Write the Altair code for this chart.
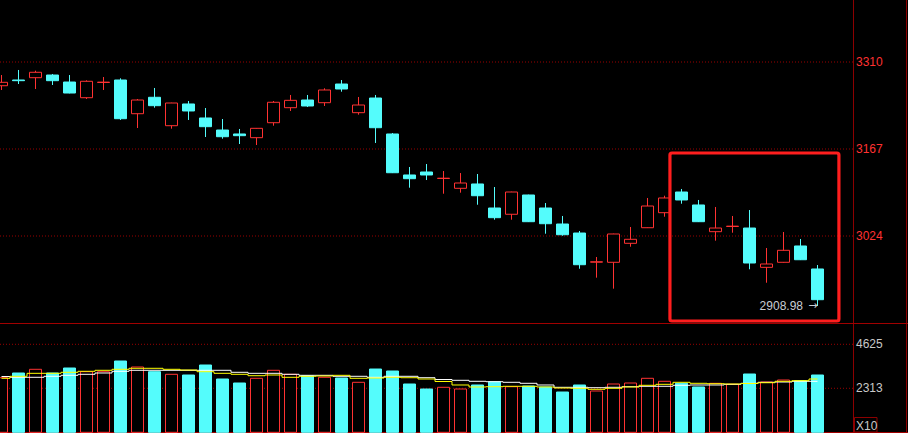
import altair as alt
import pandas as pd

# ---------------- data ----------------
opens = [3271.0, 3280.4, 3284.2, 3288.6, 3277.1, 3251.3, 3276.3, 3280.4, 3225.0, 3252.0,
         3205.3, 3241.0, 3218.0, 3198.2, 3191.7, 3185.6, 3210.2, 3234.9, 3247.5, 3243.1,
         3273.8, 3226.7, 3250.8, 3191.7, 3124.3, 3129.2, 3118.5, 3102.4, 3109.5, 3070.0,
         3059.7, 3091.4, 3070.0, 3043.7, 3028.9, 2981.0, 2980.8, 3012.0, 3037.6, 3062.3,
         3096.3, 3075.0, 3031.1, 3039.6, 3037.1, 2972.5, 2980.8, 3007.6, 2969.8]
highs = [3288.6, 3296.9, 3295.7, 3290.3, 3288.6, 3279.9, 3285.3, 3283.2, 3249.2, 3267.3,
         3243.0, 3245.9, 3234.4, 3216.3, 3199.9, 3201.5, 3245.9, 3255.8, 3255.8, 3266.8,
         3280.4, 3252.5, 3255.8, 3193.3, 3137.4, 3142.3, 3130.8, 3127.5, 3125.9, 3104.5,
         3096.8, 3091.9, 3078.2, 3056.9, 3032.2, 2989.5, 3027.8, 3038.8, 3086.5, 3090.2,
         3101.3, 3083.2, 3071.7, 3056.9, 3066.7, 3004.3, 3030.6, 3019.1, 2976.3]
lows = [3264.0, 3273.8, 3265.6, 3272.2, 3258.5, 3249.2, 3264.0, 3214.7, 3201.5, 3234.9,
        3200.4, 3214.7, 3186.7, 3183.9, 3175.2, 3173.6, 3205.3, 3229.5, 3236.0, 3237.7,
        3261.2, 3223.4, 3176.9, 3127.5, 3103.4, 3116.0, 3093.5, 3095.2, 3075.4, 3050.8,
        3050.8, 3047.0, 3027.8, 3024.5, 2970.2, 2955.5, 2937.4, 3006.4, 3037.1, 3055.7,
        3077.1, 3047.0, 3016.3, 3029.4, 2969.3, 2947.2, 2980.3, 2984.5, 2908.98]
closes = [3276.6, 3279.3, 3293.1, 3279.3, 3259.0, 3278.3, 3276.9, 3216.8, 3247.5, 3238.2,
          3242.6, 3229.5, 3203.7, 3187.2, 3188.9, 3201.0, 3243.8, 3247.0, 3237.7, 3264.0,
          3265.6, 3239.3, 3202.0, 3128.0, 3118.2, 3124.3, 3119.0, 3111.1, 3090.2, 3054.1,
          3096.3, 3047.5, 3044.2, 3026.1, 2976.8, 2981.6, 3027.3, 3018.6, 3073.3, 3086.5,
          3083.2, 3047.5, 3037.1, 3040.2, 2979.6, 2978.0, 3000.5, 2985.0, 2919.3]
volumes = [2869, 3116, 3311, 3116, 3379, 3185, 3185, 3747, 3432, 3185,
           3048, 3011, 3537, 2801, 2591, 2838, 3258, 3048, 2974, 2890,
           2853, 2628, 3326, 3221, 2538, 2275, 2365, 2275, 2486, 2659,
           2396, 2433, 2381, 2118, 2486, 2170, 2538, 2591, 2838, 2680,
           2575, 2381, 2575, 2522, 3064, 2643, 2748, 2712, 3011]
vol_ma_yellow = [2838, 2943, 3100, 3100, 3153, 3206, 3258, 3311, 3363, 3363,
                 3311, 3274, 3185, 3100, 3048, 2974, 3011, 2890, 2943, 2959,
                 2995, 2838, 2853, 2890, 2869, 2801, 2670, 2486, 2381, 2396,
                 2417, 2417, 2381, 2328, 2312, 2260, 2312, 2381, 2470, 2522,
                 2628, 2575, 2554, 2538, 2564, 2606, 2680, 2712, 2801]
vol_ma_white = [2932, 2890, 2890, 2943, 2995, 3048, 3116, 3206, 3258, 3258,
                3258, 3258, 3258, 3258, 3153, 3100, 3100, 3048, 2995, 2995,
                2943, 2943, 2890, 2943, 2943, 2869, 2775, 2733, 2680, 2659,
                2628, 2575, 2486, 2365, 2365, 2344, 2365, 2396, 2417, 2417,
                2470, 2486, 2486, 2522, 2575, 2628, 2643, 2680, 2680]
price_ticks = [3310, 3167, 3024]
vol_ticks = [4625, 2313]
vol_unit_label = "X10"
low_label = 2908.98
# highlighted region (candle index range, price range)
box_idx = [39.32, 49.26]
box_price = [3160.4, 2884.3]

# ---------------- styling ----------------
RED = "#ff3232"
CYAN = "#54fcfc"
GRID = "#990000"
FRAME = "#8c0000"
FONT = "Liberation Sans"

df = pd.DataFrame({"i": list(range(len(opens))), "open": opens, "high": highs,
                   "low": lows, "close": closes, "vol": volumes,
                   "ma_y": vol_ma_yellow, "ma_w": vol_ma_white})
df["up"] = df["close"] >= df["open"]
df["stroke"] = df["up"].map({True: RED, False: CYAN})
df["fill"] = df["up"].map({True: "#000000", False: CYAN})
df["base"] = 0

xs = alt.Scale(domain=[0, 48], range=[1.5, 817.5], nice=False, zero=False, padding=0)
ps = alt.Scale(domain=[3024, 3310], range=[236, 62], nice=False, zero=False, padding=0)
vs = alt.Scale(domain=[0, 4625], range=[432.3, 344.3], nice=False, zero=False, padding=0)
X = alt.X("i:Q", scale=xs, axis=None)

base = alt.Chart(df)

pgrid_df = pd.DataFrame({"p": price_ticks, "label": [str(v) for v in price_ticks]})
vgrid_df = pd.DataFrame({"v": vol_ticks, "label": [str(v) for v in vol_ticks]})
one = pd.DataFrame({"a": [0]})

pgrid = alt.Chart(pgrid_df).mark_rule(color=GRID, strokeDash=[1, 2], strokeWidth=1).encode(
    y=alt.Y("p:Q", scale=ps, axis=None), x=alt.value(0), x2=alt.value(853))
vgrid = alt.Chart(vgrid_df).mark_rule(color=GRID, strokeDash=[1, 2], strokeWidth=1).encode(
    y=alt.Y("v:Q", scale=vs, axis=None), x=alt.value(0), x2=alt.value(853))

frame_v = alt.Chart(one).mark_rule(color=FRAME, strokeWidth=1).encode(
    x=alt.value(853.5), y=alt.value(0), y2=alt.value(433))
frame_v2 = alt.Chart(one).mark_rule(color=FRAME, strokeWidth=1).encode(
    x=alt.value(906.5), y=alt.value(0), y2=alt.value(433))
frame_h = alt.Chart(one).mark_rule(color="#a00000", strokeWidth=1).encode(
    y=alt.value(323.5), x=alt.value(0), x2=alt.value(908))
frame_b = alt.Chart(one).mark_rule(color="#a00000", strokeWidth=1).encode(
    y=alt.value(432.5), x=alt.value(0), x2=alt.value(908))

wicks = base.mark_rule(strokeWidth=1).encode(
    X, alt.Y("low:Q", scale=ps, axis=None), alt.Y2("high:Q"),
    color=alt.Color("stroke:N", scale=None))
bodies = base.mark_bar(size=12, strokeWidth=1).encode(
    X, alt.Y("open:Q", scale=ps, axis=None), alt.Y2("close:Q"),
    fill=alt.Fill("fill:N", scale=None), stroke=alt.Stroke("stroke:N", scale=None))

vbars = base.mark_bar(size=12, strokeWidth=1).encode(
    X, alt.Y("vol:Q", scale=vs, axis=None), alt.Y2("base:Q"),
    fill=alt.Fill("fill:N", scale=None), stroke=alt.Stroke("stroke:N", scale=None))
ma_w = base.mark_line(interpolate="step", color="#ffffff", strokeWidth=1).encode(
    X, alt.Y("ma_w:Q", scale=vs, axis=None))
ma_y = base.mark_line(interpolate="step", color="#ffff00", strokeWidth=1).encode(
    X, alt.Y("ma_y:Q", scale=vs, axis=None))

plabels = alt.Chart(pgrid_df).mark_text(align="left", baseline="middle", font=FONT,
                                        fontSize=12, color=RED).encode(
    x=alt.value(856), y=alt.Y("p:Q", scale=ps, axis=None), text="label:N")
vlabels = alt.Chart(vgrid_df).mark_text(align="left", baseline="middle", font=FONT,
                                        fontSize=12, color="#c8c8c8").encode(
    x=alt.value(856), y=alt.Y("v:Q", scale=vs, axis=None), text="label:N")

unit_box = alt.Chart(one).mark_rect(fill="#000000", stroke=FRAME, strokeWidth=1).encode(
    x=alt.value(854.5), x2=alt.value(877), y=alt.value(417.5), y2=alt.value(432))
unit_text = alt.Chart(pd.DataFrame({"t": [vol_unit_label]})).mark_text(
    align="left", baseline="middle", font=FONT, fontSize=12, color="#c8c8c8").encode(
    x=alt.value(856), y=alt.value(425.5), text="t:N")

box = alt.Chart(pd.DataFrame({"x1": [box_idx[0]], "x2": [box_idx[1]],
                              "y1": [box_price[0]], "y2": [box_price[1]]})).mark_rect(
    fillOpacity=0, stroke="#ff1e1e", strokeWidth=3.2, cornerRadius=2).encode(
    x=alt.X("x1:Q", scale=xs, axis=None), x2="x2:Q",
    y=alt.Y("y1:Q", scale=ps, axis=None), y2="y2:Q")

low_df = pd.DataFrame({"i": [48], "p": [low_label], "t": [f"{low_label:.2f}"], "arr": ["→"]})
low_text = alt.Chart(low_df).mark_text(align="right", baseline="middle", dx=-14.5,
                                       font=FONT, fontSize=12, color="#c8ccd4").encode(
    x=alt.X("i:Q", scale=xs, axis=None), y=alt.Y("p:Q", scale=ps, axis=None), text="t:N")
low_arrow = alt.Chart(low_df).mark_text(align="right", baseline="middle", dx=0,
                                        font="DejaVu Sans", fontSize=11, color="#c8ccd4").encode(
    x=alt.X("i:Q", scale=xs, axis=None), y=alt.Y("p:Q", scale=ps, axis=None), text="arr:N")

chart = alt.layer(
    pgrid, vgrid, frame_v, frame_v2, frame_h, frame_b,
    wicks, bodies, vbars, ma_w, ma_y,
    plabels, vlabels, unit_box, unit_text, box, low_text, low_arrow
).resolve_scale(y="independent").properties(
    width=908, height=433, autosize="none", padding=0, background="#000000"
).configure_view(stroke=None)

chart.save("out.html", embed_options={"renderer": "svg", "actions": False})
